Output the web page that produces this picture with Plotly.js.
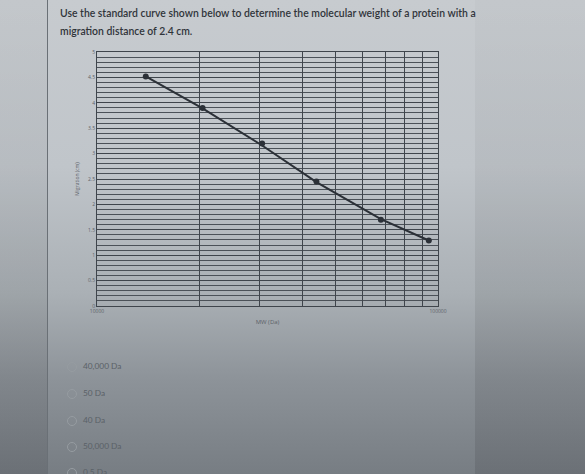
<!DOCTYPE html>
<html>
<head>
<meta charset="utf-8">
<script src="https://cdn.plot.ly/plotly-3.0.1.min.js"></script>
<style>
  html, body { margin: 0; padding: 0; }
  body {
    width: 585px; height: 474px; overflow: hidden; position: relative;
    background: linear-gradient(180deg, #c7cbcf 0%, #c0c5ca 35%, #aab0b5 62%, #8d9399 80%, #777d83 100%);
    font-family: Lato, "Open Sans", sans-serif;
  }
  .side { position: absolute; top: 0; height: 474px; background: linear-gradient(180deg, rgba(0,0,0,0.02), rgba(0,0,0,0.10)); }
  #frame { position: absolute; left: 47px; top: 0; width: 1px; height: 474px; background: #6a7076; }
  #q { position: absolute; left: 60px; top: 4px; width: 470px; font-size: 10.4px; line-height: 18px;
       color: #30343a; font-weight: 600; }
  #chart { position: absolute; left: 0; top: 0; width: 585px; height: 474px; }
  .opt { position: absolute; left: 67px; font-size: 8.3px; color: #5a6167; }
  .opt span { display: inline-block; width: 8px; height: 8px; border-radius: 50%;
              border: 1px solid #969ca1; margin-right: 6px; vertical-align: middle; }
</style>
</head>
<body>
<div class="side" style="left:0;width:47px"></div>
<div class="side" style="left:475px;width:110px"></div>
<div id="frame"></div>
<div id="chart"></div>
<div id="q">Use the standard curve shown below to determine the molecular weight of a protein with a<br>migration distance of 2.4 cm.</div>
<div class="opt" style="top:361px"><span></span>40,000 Da</div>
<div class="opt" style="top:388px"><span></span>50 Da</div>
<div class="opt" style="top:415px"><span></span>40 Da</div>
<div class="opt" style="top:441px"><span></span>50,000 Da</div>
<div class="opt" style="top:467px"><span></span>0.5 Da</div>
<script>
// standard curve: molecular weight (Da) vs migration (cm)
var mw = [13900, 20400, 30500, 44000, 68000, 94000];
var migration = [4.52, 3.9, 3.2, 2.45, 1.7, 1.29];

// trendline as it runs in the picture
var trendX = [13900, 20400, 30500, 44000, 68000, 94000];
var trendY = [4.52, 3.89, 3.16, 2.44, 1.71, 1.29];

var xTicks = [10000, 20000, 30000, 40000, 50000, 60000, 70000, 80000, 90000, 100000];
var xTickText = ['10000', '', '', '', '', '', '', '', '', '100000'];

var gridCol = '#3f454c';

var data = [
  {
    x: trendX, y: trendY, mode: 'lines', type: 'scatter',
    line: {color: '#2b3037', width: 2}, hoverinfo: 'skip'
  },
  {
    x: mw, y: migration, mode: 'markers', type: 'scatter',
    marker: {color: '#2b3037', size: 6}
  }
];

var layout = {
  width: 585, height: 474,
  margin: {l: 97, r: 147, t: 52, b: 168},
  paper_bgcolor: 'rgba(0,0,0,0)',
  plot_bgcolor: 'rgba(0,0,0,0)',
  showlegend: false,
  font: {family: '"Open Sans", sans-serif', size: 5, color: '#5c6269'},
  xaxis: {
    type: 'log', range: [4, 5],
    tickvals: xTicks, ticktext: xTickText,
    showgrid: true, gridcolor: gridCol, gridwidth: 1,
    zeroline: false, showline: true, linecolor: gridCol, mirror: true,
    ticks: '', ticklen: 0,
    title: {text: 'MW (Da)', standoff: 6, font: {size: 6, color: '#5c6269'}}
  },
  yaxis: {
    range: [0, 5], dtick: 0.5,
    showgrid: true, gridcolor: gridCol, gridwidth: 1,
    minor: {dtick: 0.1, showgrid: true, gridcolor: '#4b5158', gridwidth: 1},
    zeroline: false, showline: true, linecolor: gridCol, mirror: true,
    ticks: '',
    title: {text: 'Migration (cm)', standoff: 8, font: {size: 5, color: '#5c6269'}}
  }
};

Plotly.newPlot('chart', data, layout, {displayModeBar: false, staticPlot: true});
</script>
</body>
</html>
